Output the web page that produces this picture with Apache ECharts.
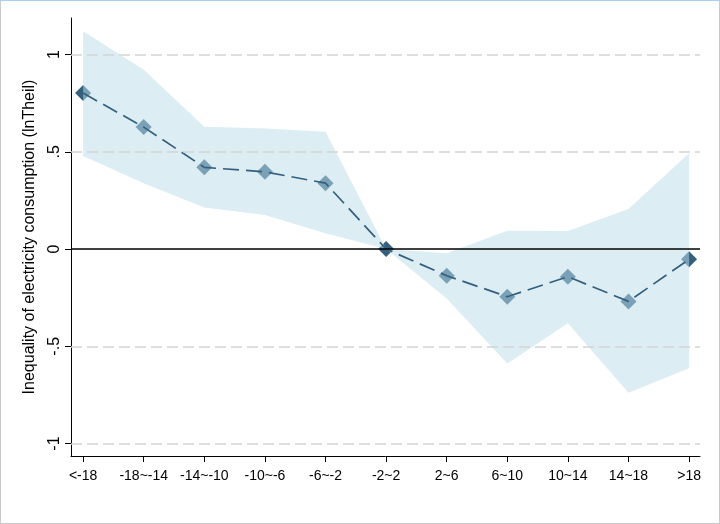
<!DOCTYPE html>
<html>
<head>
<meta charset="utf-8">
<script src="https://cdn.jsdelivr.net/npm/echarts@6/dist/echarts.min.js"></script>
<style>html,body{margin:0;padding:0;background:#fff}#c{width:720px;height:524px}</style>
</head>
<body>
<div id="c"></div>
<script>
const categories = ['<-18','-18~-14','-14~-10','-10~-6','-6~-2','-2~2','2~6','6~10','10~14','14~18','>18'];
const estimate = [0.802, 0.627, 0.420, 0.397, 0.339, 0.000, -0.137, -0.245, -0.142, -0.269, -0.053];
const ciUpper  = [1.120, 0.922, 0.629, 0.620, 0.603, 0.000, -0.022, 0.094, 0.093, 0.206, 0.492];
const ciLower  = [0.478, 0.339, 0.214, 0.175, 0.081, 0.000, -0.254, -0.588, -0.382, -0.739, -0.613];
const yTicks = [-1, -0.5, 0, 0.5, 1];
const yTickLabels = ['-1', '-.5', '0', '.5', '1'];
const gridDashed = [1, 0.5, -0.5, -1];

const xIdx = categories.map((_, i) => i);
const pts = estimate.map((v, i) => [i, v]);
const font = 'Liberation Sans, Arial, sans-serif';

const chart = echarts.init(document.getElementById('c'), null, {renderer: 'canvas'});
chart.setOption({
  animation: false,
  backgroundColor: '#fff',
  graphic: [
    {type: 'rect', shape: {x: 0.5, y: 0.5, width: 719, height: 523}, style: {fill: 'none', stroke: '#c9c9c9', lineWidth: 1}, silent: true, z: 100},
    {type: 'line', shape: {x1: 0, y1: 0.5, x2: 720, y2: 0.5}, style: {stroke: '#a9d1ee', lineWidth: 1}, silent: true, z: 101}
  ],
  grid: {left: 71, right: 20, top: 18, bottom: 68, containLabel: false},
  xAxis: {
    type: 'value', min: -0.2, max: 10.18,
    axisLine: {show: true, onZero: false, lineStyle: {color: '#000', width: 1}},
    axisTick: {show: true, length: 6, customValues: xIdx, lineStyle: {color: '#000', width: 1}},
    axisLabel: {show: true, customValues: xIdx, margin: 13, color: '#000', fontSize: 14, fontFamily: font,
      formatter: v => categories[Math.round(v)] ?? ''},
    splitLine: {show: false}
  },
  yAxis: {
    type: 'value', min: -1.064, max: 1.188,
    name: 'Inequality of electricity consumption (lnTheil)',
    nameLocation: 'middle', nameGap: 33, nameRotate: 90,
    nameTextStyle: {color: '#000', fontSize: 16, fontFamily: font},
    axisLine: {show: true, onZero: false, lineStyle: {color: '#000', width: 1}},
    axisTick: {show: true, length: 6, customValues: yTicks, lineStyle: {color: '#000', width: 1}},
    axisLabel: {show: true, customValues: yTicks, rotate: 90, margin: 8, color: '#000', fontSize: 16, fontFamily: font,
      formatter: v => { const k = yTicks.findIndex(t => Math.abs(t - v) < 1e-6); return k >= 0 ? yTickLabels[k] : ''; }},
    splitLine: {show: false}
  },
  series: [
    {
      type: 'line', data: [], z: 0, silent: true,
      markLine: {
        silent: true, symbol: 'none', label: {show: false}, animation: false,
        data: gridDashed.map(v => ({yAxis: v, lineStyle: {color: '#d4d4d4', type: [11, 5], width: 1.5}}))
      }
    },
    {
      type: 'scatter', data: pts, z: 1, symbol: 'diamond', symbolSize: 16,
      itemStyle: {color: '#34607e', opacity: 1}
    },
    {
      type: 'custom', z: 2, silent: true,
      data: xIdx,
      renderItem: function (params, api) {
        if (params.dataIndex !== 0) return null;
        const up = ciUpper.map((v, i) => api.coord([i, v]));
        const lo = ciLower.map((v, i) => api.coord([i, v])).reverse();
        return {type: 'polygon', shape: {points: up.concat(lo)}, style: {fill: 'rgba(187,220,232,0.52)', stroke: null}};
      }
    },
    {
      type: 'line', data: [], z: 3, silent: true,
      markLine: {
        silent: true, symbol: 'none', label: {show: false}, animation: false,
        data: [{yAxis: 0, lineStyle: {color: '#000', type: 'solid', width: 1.6}}]
      }
    },
    {
      type: 'line', data: pts, z: 4, showSymbol: false, symbol: 'none',
      lineStyle: {color: '#34607e', width: 1.7, type: [16, 7]}
    }
  ]
});
</script>
</body>
</html>
